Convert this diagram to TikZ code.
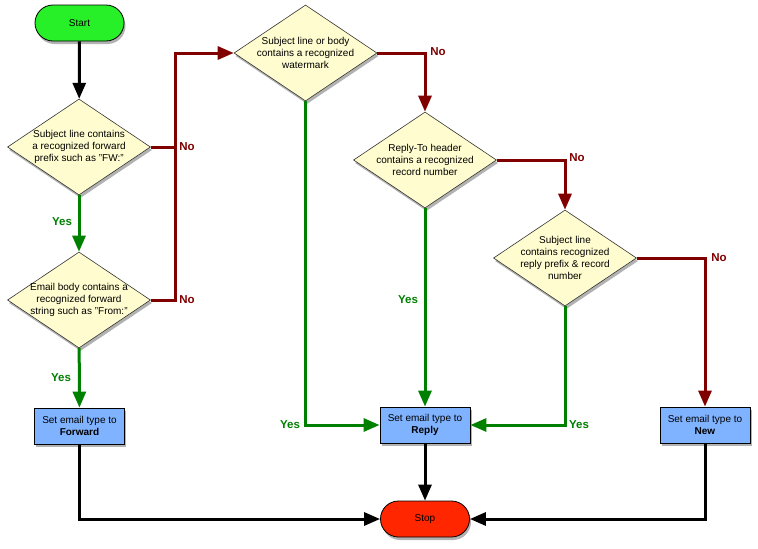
\documentclass[tikz,border=0pt]{standalone}
\usepackage{fontspec}
\setmainfont{Liberation Sans}
\usetikzlibrary{shapes.geometric,shapes.misc,arrows.meta,shadows}
\definecolor{startg}{RGB}{40,240,40}
\definecolor{stopr}{RGB}{255,38,0}
\definecolor{boxb}{RGB}{128,179,255}
\definecolor{dfill}{RGB}{255,253,208}
\definecolor{nored}{RGB}{128,0,0}
\definecolor{yesg}{RGB}{0,128,0}
\begin{document}
\begin{tikzpicture}[x=1pt,y=-1pt,
  shad/.style={drop shadow={shadow xshift=1.5pt,shadow yshift=-3pt,opacity=0.3,fill=black}},
  txt/.style={font=\fontsize{10}{12}\selectfont},
  term/.style={rounded rectangle, draw=black, line width=0.8pt, minimum width=89pt, minimum height=36pt, inner sep=0pt, txt, shad},
  decision/.style={diamond, draw=black!80, line width=0.6pt, fill=dfill, minimum width=143pt, minimum height=96pt, inner sep=0pt, shad},
  dtext/.style={align=center, txt, inner sep=0pt},
  action/.style={rectangle, draw=black, line width=0.8pt, fill=boxb, minimum width=90pt, minimum height=36pt, inner sep=0pt, align=center, txt, shad},
  tip/.style={-{Triangle[length=16pt,width=13pt]}},
  blk/.style={line width=3pt, black},
  nol/.style={line width=3pt, nored},
  yesl/.style={line width=3pt, yesg},
  nolab/.style={font=\fontsize{11.5}{13}\selectfont\bfseries, text=nored, inner sep=0pt},
  yeslab/.style={font=\fontsize{11.5}{13}\selectfont\bfseries, text=yesg, inner sep=0pt}
]
\useasboundingbox (0,0) rectangle (758,549);

\node[term, fill=startg] (start) at (79.5,23) {Start};
\node[decision] (d1) at (79,147) {};
\node[dtext] (d1t) at (d1.center) {Subject line contains\\a recognized forward\\prefix such as "FW:"};
\node[decision] (d2) at (79,300) {};
\node[dtext] (d2t) at (d2.center) {Email body contains a\\recognized forward\\string such as "From:"};
\node[action] (fwd) at (79.5,426) {Set email type to\\\textbf{Forward}};

\node[decision] (d3) at (305.5,53) {};
\node[dtext] (d3t) at (d3.center) {Subject line or body\\contains a recognized\\watermark};
\node[decision] (d4) at (425,160) {};
\node[dtext] (d4t) at (d4.center) {Reply-To header\\contains a recognized\\record number};
\node[decision] (d5) at (565,258) {};
\node[dtext] (d5t) at (d5.center) {Subject line\\contains recognized\\reply prefix \& record\\number};

\node[action] (reply) at (425,425) {Set email type to\\\textbf{Reply}};
\node[action] (new) at (705,425) {Set email type to\\\textbf{New}};
\node[term, fill=stopr] (stop) at (425,519) {Stop};

\coordinate (nocol) at (175,0);

% black
\draw[blk, tip] (start) -- (d1);
\draw[blk, tip] (reply) -- (stop);
\draw[blk, tip] (fwd.south) |- (stop.west);
\draw[blk, tip] (new.south) |- (stop.east);

% no
\draw[nol, tip] (d1.east) -- (d1.east -| nocol) |- (d3.west);
\draw[nol] (d2.east) -| (d1.east -| nocol);
\draw[nol, tip] (d3.east) -| (d4.north);
\draw[nol, tip] (d4.east) -| (d5.north);
\draw[nol, tip] (d5.east) -| (new.north);

% yes
\draw[yesl, tip] (d1) -- (d2);
\draw[yesl, tip] (d2) -- (fwd);
\draw[yesl, tip] (d3.south) |- (reply.west);
\draw[yesl, tip] (d4) -- (reply);
\draw[yesl, tip] (d5.south) |- (reply.east);

% labels
\node[nolab] (no1) at (187,147) {No};
\node[nolab] (no2) at (187,300) {No};
\node[nolab] (no3) at (438,52) {No};
\node[nolab] (no4) at (577,158) {No};
\node[nolab] (no5) at (719,258) {No};
\node[yeslab] (yes1) at (62,222) {Yes};
\node[yeslab] (yes2) at (61,378) {Yes};
\node[yeslab] (yes3) at (408,300) {Yes};
\node[yeslab] (yes4) at (290,425) {Yes};
\node[yeslab] (yes5) at (579,425) {Yes};
\end{tikzpicture}
\end{document}
